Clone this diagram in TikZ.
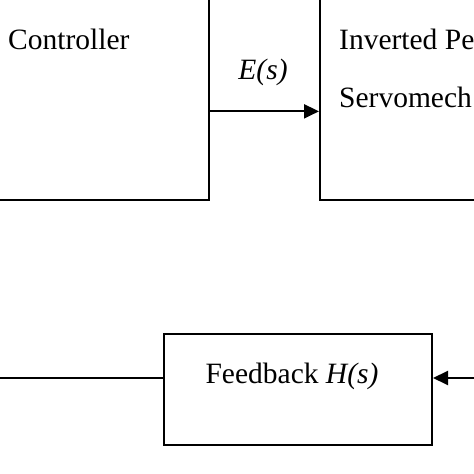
\documentclass[tikz,border=0pt]{standalone}
\usepackage{fontspec}
\setmainfont{Liberation Serif}
\usetikzlibrary{arrows.meta}
\begin{document}
\begin{tikzpicture}[x=1pt,y=1pt,
  blk/.style={draw=black,line width=2pt,inner sep=0pt,fill=white},
  lbl/.style={font=\fontsize{29.5}{34}\selectfont,inner sep=0pt},
  conn/.style={line width=2pt},
  tip/.style={-{Triangle[length=15pt,width=14pt]}}]
\useasboundingbox (0,0) rectangle (474,474);
\clip (0,0) rectangle (474,474);
\fill[white] (0,0) rectangle (474,474);
% blocks
\node[blk,minimum width=309pt,minimum height=201.3pt] (ctrl) at (54.5,374.65) {};
\node[blk,minimum width=300pt,minimum height=201.3pt] (plant) at (470,374.65) {};
\node[blk,minimum width=268pt,minimum height=111pt] (fb) at (298,84.5) {};
% labels
\node[lbl,anchor=base west] (tc) at (8,424) {Controller};
\node[lbl,anchor=base west] (tp1) at (339,424) {Inverted Pe};
\node[lbl,anchor=base west] (tp2) at (339,366) {Servomech};
\node[lbl,anchor=base] (te) at (263,394) {\textit{E(s)}};
\node[lbl,anchor=base] (tf) at (292,90) {Feedback \textit{H(s)}};
% connectors
\draw[conn,tip] ([yshift=-12pt]ctrl.east) -- ([yshift=-12pt]plant.west);
\coordinate (fbl) at (-20,96);
\coordinate (fbr) at (500,96);
\draw[conn] (fb.west |- fbl) -- (fbl);
\draw[conn,tip] (fbr) -- (fb.east |- fbr);
\end{tikzpicture}
\end{document}
